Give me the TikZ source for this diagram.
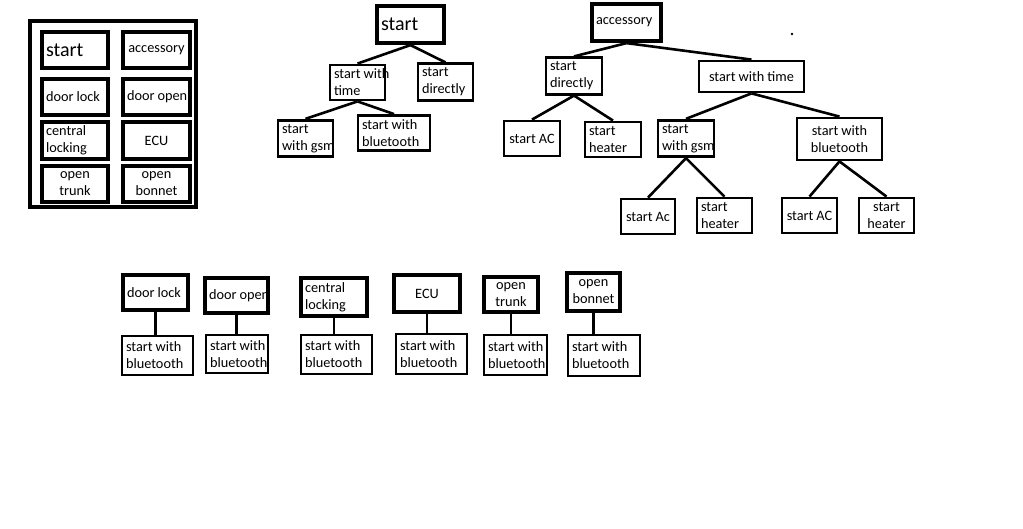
\documentclass[tikz,border=0pt]{standalone}
\usepackage{fontspec}
\setmainfont{Carlito}
\newcommand\ws{\nobreak\hspace{3pt}\nobreak}
\newcommand\mybox[7][]{%
  \pgfmathsetmacro\myw{#5-#3}\pgfmathsetmacro\myh{#6-#4}%
  \pgfmathsetmacro\mycx{(#3+#5)/2}\pgfmathsetmacro\mycy{(#4+#6)/2}%
  \pgfmathsetmacro\mytw{#5-#3-8}%
  \node[box,minimum width=\myw pt,minimum height=\myh pt,text width=\mytw pt,#1] (#2) at (\mycx,\mycy) {#7};}
\begin{document}
\begin{tikzpicture}[x=1pt,y=-1pt,
  box/.style={draw,line width=2.8pt,inner sep=4pt,font=\fontsize{14.3}{17}\selectfont,align=center},
  thick box/.style={line width=4.2pt},
  big/.style={font=\fontsize{20}{24}\selectfont},
  lft/.style={align=left},
  con/.style={line width=2.6pt}]
\useasboundingbox[fill=white] (0,0) rectangle (1023,529);

% left panel
\draw[line width=4pt] (30,21) rectangle (196,207);
\mybox[thick box,big,lft]{a1}{42}{32}{108}{68}{start}
\mybox[thick box]{a2}{123}{32}{190}{68}{accessory}
\mybox[thick box,lft]{a3}{42}{79}{108}{115}{door\ws lock}
\mybox[thick box]{a4}{123}{79}{190}{115}{door\ws open}
\mybox[thick box,lft]{a5}{42}{122}{108}{159}{central\\locking}
\mybox[thick box]{a6}{123}{122}{190}{159}{ECU}
\mybox[thick box]{a7}{42}{166}{108}{202}{open\\trunk}
\mybox[thick box]{a8}{123}{166}{190}{202}{open\\bonnet}

% middle tree
\mybox[thick box,big,lft]{b0}{377}{6}{444}{43}{start}
\mybox[lft]{b1}{330}{65}{385}{100}{start\ws with\\time}
\mybox[lft]{b2}{418}{65}{473}{99}{start\\directly}
\mybox[lft]{b3}{278}{121}{333}{156}{start\\with\ws gsm}
\mybox[lft]{b4}{358}{117}{430}{149}{start\ws with\\bluetooth}
\draw[con] (b0.south) -- (b1.north);
\draw[con] (b0.south) -- (b2.north);
\draw[con] (b1.south) -- (b3.north);
\draw[con] (b1.south) -- (b4.north);

% right tree
\mybox[thick box,lft]{c0}{592}{4}{661}{41}{accessory}
\mybox[lft]{c1}{546}{59}{602}{93}{start\\directly}
\mybox{c2}{699}{61}{804}{92}{start\ws with\ws time}
\mybox{c3}{504}{121}{560}{156}{start\ws AC}
\mybox[lft]{c4}{585}{122}{641}{157}{start\\heater}
\mybox[lft]{c5}{658}{121}{714}{156}{start\\with\ws gsm}
\mybox{c6}{797}{118}{882}{160}{start\ws with\\bluetooth}
\mybox{c7}{621}{199}{675}{234}{start\ws Ac}
\mybox[lft]{c8}{697}{198}{752}{233}{start\\heater}
\mybox{c9}{782}{198}{837}{233}{start\ws AC}
\mybox{c10}{859}{198}{914}{233}{start\\heater}
\draw[con] (c0.south) -- (c1.north);
\draw[con] (c0.south) -- (c2.north);
\draw[con] (c1.south) -- (c3.north);
\draw[con] (c1.south) -- (c4.north);
\draw[con] (c2.south) -- (c5.north);
\draw[con] (c2.south) -- (c6.north);
\draw[con] (c5.south) -- (c7.north);
\draw[con] (c5.south) -- (c8.north);
\draw[con] (c6.south) -- (c9.north);
\draw[con] (c6.south) -- (c10.north);
\fill (792,34) circle (1.3);

% bottom row
\mybox[thick box,lft]{d1}{123}{275}{188}{310}{door\ws lock}
\mybox[lft]{e1}{122}{336}{193}{375}{start\ws with\\bluetooth}
\mybox[thick box,lft]{d2}{205}{278}{268}{313}{door\ws open}
\mybox[lft]{e2}{206}{335}{268}{373}{start\ws with\\bluetooth}
\mybox[thick box,lft]{d3}{301}{279}{367}{315}{central\\locking}
\mybox[lft]{e3}{301}{335}{372}{374}{start\ws with\\bluetooth}
\mybox[thick box]{d4}{394}{275}{460}{312}{ECU}
\mybox[lft]{e4}{396}{334}{467}{374}{start\ws with\\bluetooth}
\mybox[thick box]{d5}{484}{277}{538}{312}{open\\trunk}
\mybox[lft]{e5}{484}{335}{547}{375}{start\ws with\\bluetooth}
\mybox[thick box]{d6}{567}{273}{620}{311}{open\\bonnet}
\mybox[lft]{e6}{568}{335}{640}{376}{start\ws with\\bluetooth}
\foreach \u/\l in {d1/e1,d2/e2,d3/e3,d4/e4,d5/e5,d6/e6}
  \draw[con] (\u.south) -- (\u.south |- \l.north);
\end{tikzpicture}
\end{document}
